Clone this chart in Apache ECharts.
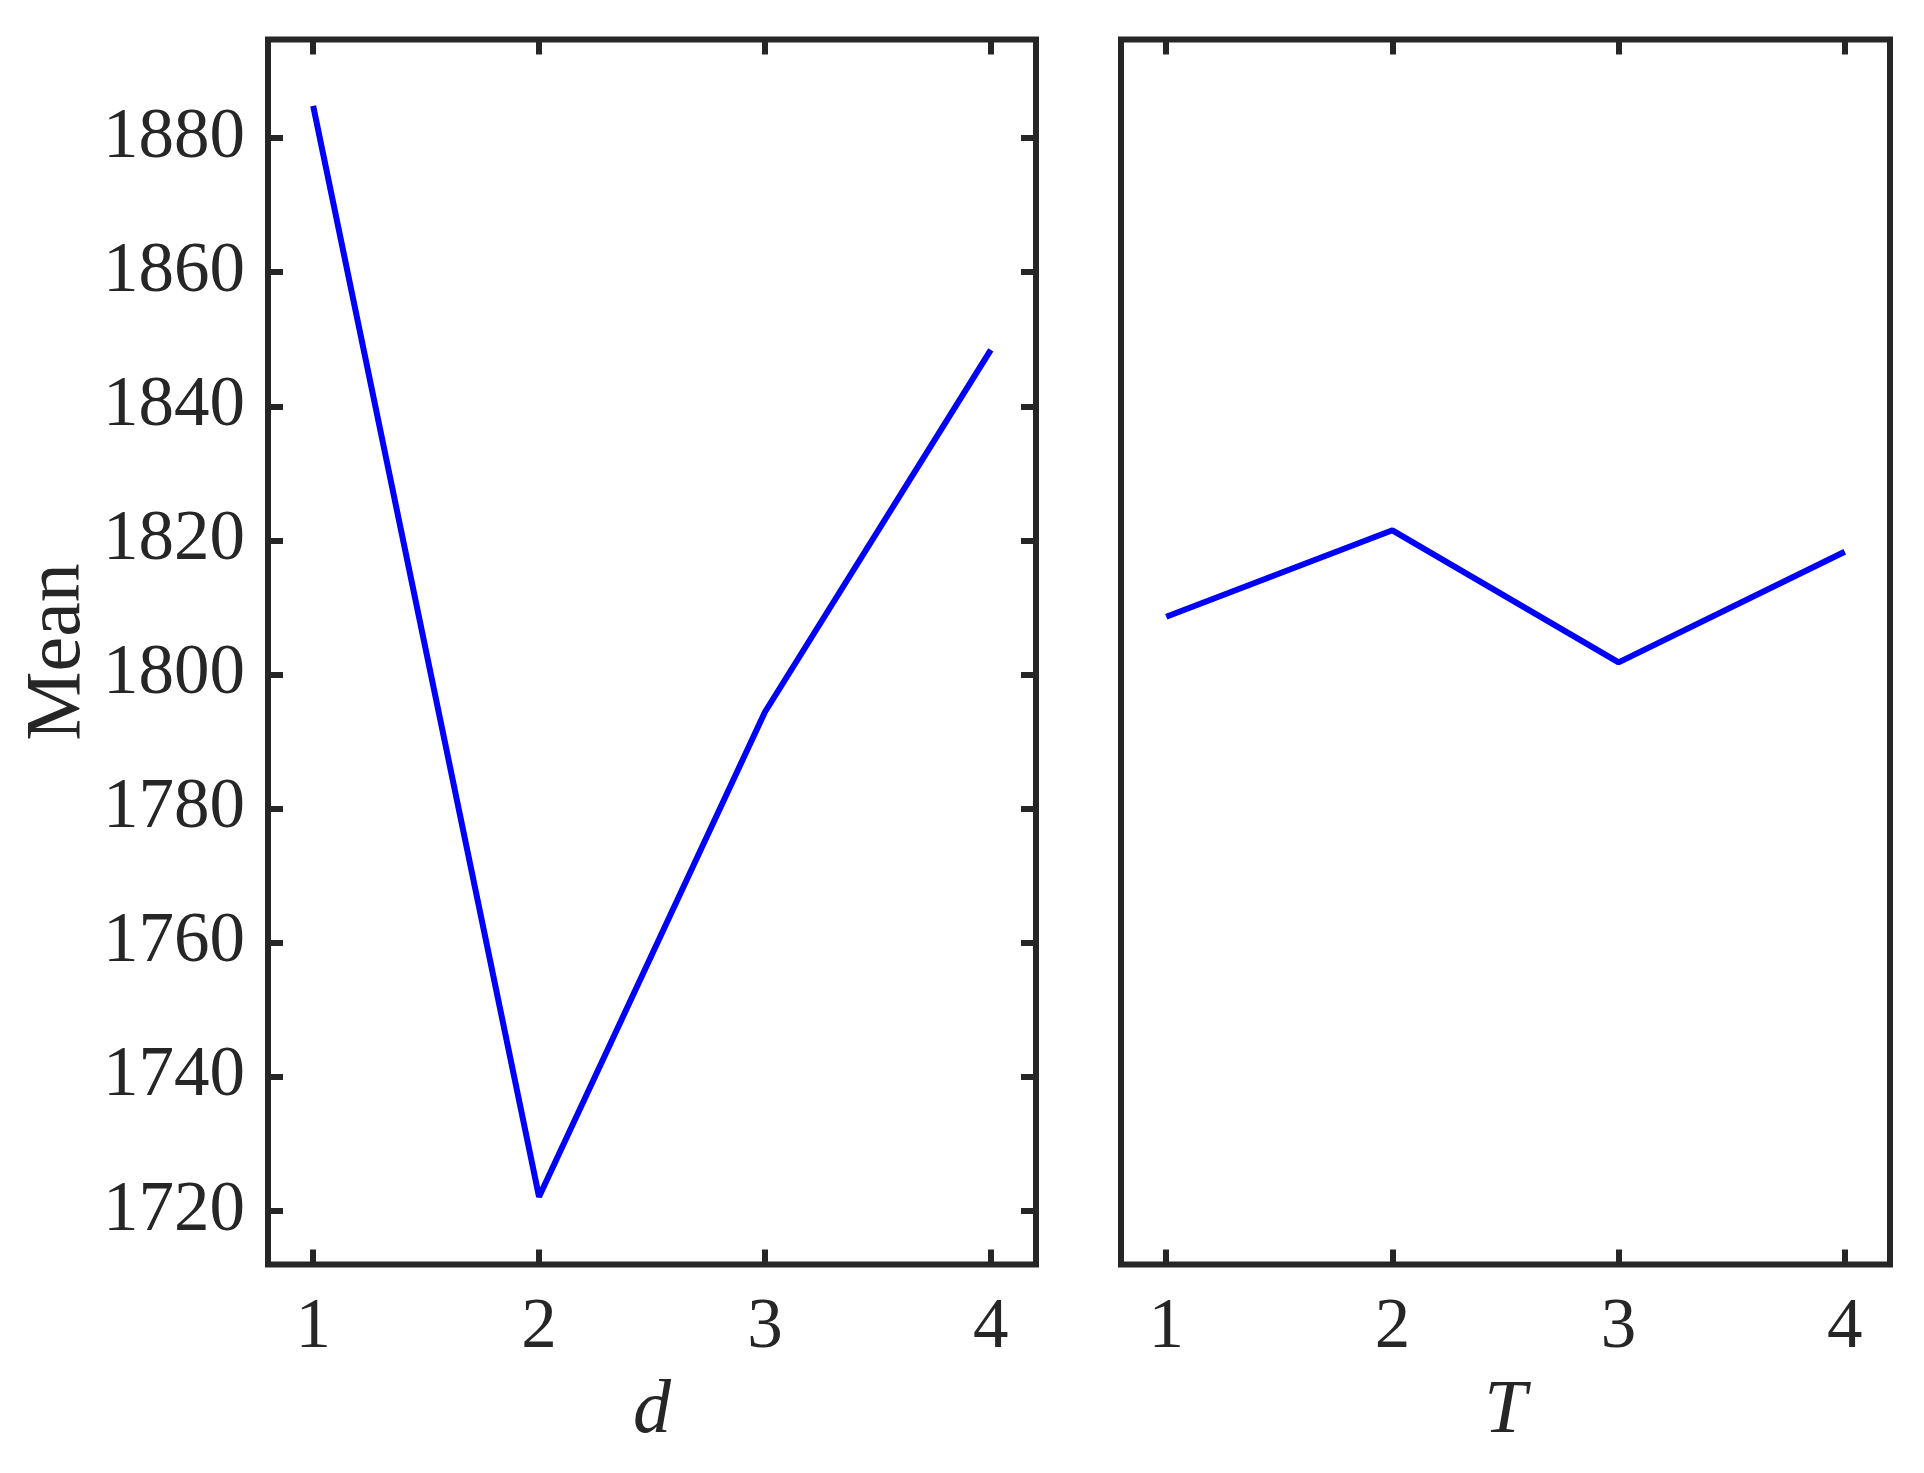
<!DOCTYPE html>
<html>
<head>
<meta charset="utf-8">
<script src="https://cdn.jsdelivr.net/npm/echarts@6/dist/echarts.min.js"></script>
<style>
html,body{margin:0;padding:0;background:#fff;}
#c{width:1924px;height:1473px;}
</style>
</head>
<body>
<div id="c"></div>
<script>
const xTicks = [1, 2, 3, 4];
const yTicks = [1720, 1740, 1760, 1780, 1800, 1820, 1840, 1860, 1880];
const dValues = [1, 2, 3, 4];
const meanByD = [1884.8, 1722.1, 1794.4, 1848.4];
const tValues = [1, 2, 3, 4];
const meanByT = [1808.6, 1821.5, 1801.8, 1818.3];

const AX = '#262626';
const FONT = '"Liberation Serif", "Times New Roman", Times, serif';
const X_MIN = 0.8, X_MAX = 4.2, Y_MIN = 1712, Y_MAX = 1894.7;

function xAx(grid, pos, labels, name) {
  return {
    type: 'value', gridIndex: grid, position: pos, min: X_MIN, max: X_MAX,
    axisLine: { show: false },
    splitLine: { show: false },
    axisTick: { show: true, inside: true, length: 15, customValues: xTicks, lineStyle: { color: AX, width: 6 } },
    axisLabel: { show: labels, customValues: xTicks, margin: 28, fontFamily: FONT, fontSize: 71, color: AX,
                 formatter: v => String(v) },
    name: name || '', nameLocation: 'middle', nameGap: 110,
    nameTextStyle: { fontFamily: FONT, fontSize: 76, fontStyle: 'italic', color: AX }
  };
}
function yAx(grid, pos, labels, ticks, name) {
  return {
    type: 'value', gridIndex: grid, position: pos, min: Y_MIN, max: Y_MAX,
    axisLine: { show: false },
    splitLine: { show: false },
    axisTick: { show: ticks, inside: true, length: 15, customValues: yTicks, lineStyle: { color: AX, width: 6 } },
    axisLabel: { show: labels, customValues: yTicks, margin: 23, fontFamily: FONT, fontSize: 71, color: AX,
                 formatter: v => String(v) },
    name: name || '', nameLocation: 'middle', nameGap: 170,
    nameTextStyle: { fontFamily: FONT, fontSize: 78, color: AX }
  };
}

const chart = echarts.init(document.getElementById('c'), null, { renderer: 'canvas' });
chart.setOption({
  backgroundColor: '#ffffff',
  animation: false,
  grid: [
    { left: 268, top: 39.5, width: 768, height: 1225, show: true, borderColor: AX, borderWidth: 6, backgroundColor: 'transparent' },
    { left: 1121, top: 39.5, width: 769, height: 1225, show: true, borderColor: AX, borderWidth: 6, backgroundColor: 'transparent' }
  ],
  xAxis: [
    xAx(0, 'bottom', true, 'd'),
    xAx(0, 'top', false),
    xAx(1, 'bottom', true, 'T'),
    xAx(1, 'top', false)
  ],
  yAxis: [
    yAx(0, 'left', true, true, 'Mean'),
    yAx(0, 'right', false, true),
    yAx(1, 'left', false, false)
  ],
  series: [
    {
      type: 'line', xAxisIndex: 0, yAxisIndex: 0, symbol: 'none',
      data: dValues.map((v, i) => [v, meanByD[i]]),
      lineStyle: { color: '#0000ff', width: 6 }
    },
    {
      type: 'line', xAxisIndex: 2, yAxisIndex: 2, symbol: 'none',
      data: tValues.map((v, i) => [v, meanByT[i]]),
      lineStyle: { color: '#0000ff', width: 6 }
    }
  ]
});
</script>
</body>
</html>
